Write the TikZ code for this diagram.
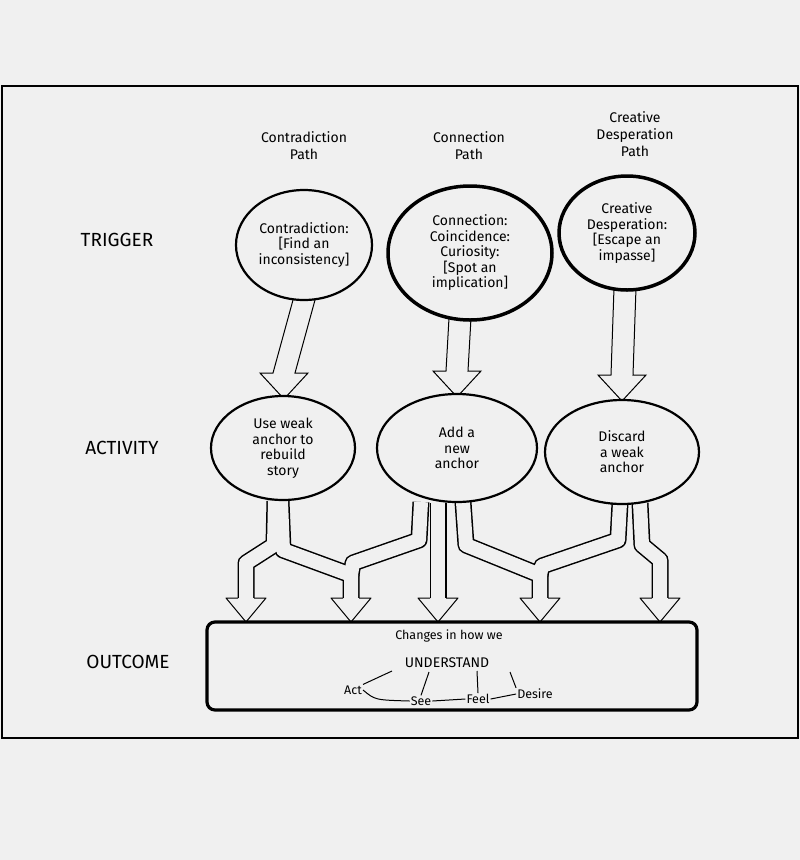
\documentclass[tikz,border=0pt]{standalone}
\usepackage{fontspec}
\setmainfont{Fira Sans}
\usetikzlibrary{shapes.geometric}
\begin{document}
\begin{tikzpicture}[x=1pt,y=-1pt,
  ell/.style={ellipse,draw,line width=2.2pt,fill=white!94!black,inner sep=0pt,align=center,font=\fontsize{14}{15.5}\selectfont},
  thk/.style={line width=3.2pt},
  lbl/.style={font=\fontsize{19}{21}\selectfont},
  hdr/.style={align=center,font=\fontsize{14}{17}\selectfont},
  sm/.style={font=\fontsize{12.5}{14}\selectfont,inner sep=1pt},
  outer/.style={line width=17pt,black,line join=round},
  inner/.style={line width=14pt,white!94!black,line join=round},
  head/.style={draw,line width=1pt,fill=white!94!black,line join=round}]
\fill[white!94!black] (0,0) rectangle (800,860);
\useasboundingbox (0,0) rectangle (800,860);
\draw[line width=1.2pt,fill=white!94!black] (2,86) rectangle (798,738);
% labels
\node[lbl] (lt) at (117,240) {TRIGGER};
\node[lbl] (la) at (122,448) {ACTIVITY};
\node[lbl] (lo) at (128,662) {OUTCOME};
\node[hdr] (h1) at (304,146) {Contradiction\\Path};
\node[hdr] (h2) at (469,146) {Connection\\Path};
\node[hdr] (h3) at (635,134) {Creative\\Desperation\\Path};
% top arrows
\foreach \xa/\ya/\xb/\yb in {304/300/284/399, 460/318/457/397, 625/288/622/401}{
  \draw[line width=1pt,fill=white!94!black] (\xa-11,\ya) -- (\xb-11,\yb-26) -- (\xb-24,\yb-26) -- (\xb,\yb) -- (\xb+24,\yb-26) -- (\xb+11,\yb-26) -- (\xa+11,\ya);
}
% ellipses
\node[ell,minimum width=136,minimum height=110] (t1) at (304,245) {Contradiction:\\{[}Find an\\inconsistency{]}};
\node[ell,line width=3.5pt,minimum width=164,minimum height=134] (t2) at (470,253) {Connection:\\Coincidence:\\Curiosity:\\{[}Spot an\\implication{]}};
\node[ell,line width=3.5pt,minimum width=136,minimum height=114] (t3) at (627,233) {Creative\\Desperation:\\{[}Escape an\\impasse{]}};
% bottom forked arrows
\foreach \s in {outer,inner}{
  \draw[\s] (275,501) -- (274,545) -- (246,563) -- (246,602);
  \draw[\s] (281,501) -- (283,550) -- (351,575) -- (351,602);
  \draw[\s] (421,502) -- (419,540) -- (353,563) -- (351,575);
  \draw[\s] (438,503) -- (438,602);
  \draw[\s] (463,502) -- (466,545) -- (540,575) -- (540,602);
  \draw[\s] (620,503) -- (618,540) -- (542,566) -- (540,575);
  \draw[\s] (640,503) -- (642,545) -- (660,560) -- (660,602);
}
\foreach \x in {246,351,438,540,660}
  \draw[head] (\x-8,598) -- (\x-20,598) -- (\x,622) -- (\x+20,598) -- (\x+8,598);
\node[ell,minimum width=144,minimum height=104] (a1) at (283,448) {Use weak\\anchor to\\rebuild\\story};
\node[ell,minimum width=160,minimum height=108] (a2) at (457,448) {Add a\\new\\anchor};
\node[ell,minimum width=154,minimum height=104] (a3) at (622,452) {Discard\\a weak\\anchor};
% outcome
\draw[thk,rounded corners=8,fill=white!94!black] (207,622) rectangle (697,710);
\node[sm] (ch) at (449,636) {Changes in how we};
\node[font=\fontsize{14}{15}\selectfont,inner sep=1pt] (u) at (447,663) {UNDERSTAND};
\node[sm] (act) at (353,690) {Act};
\node[sm] (see) at (421,701) {See};
\node[sm] (feel) at (478,699) {Feel};
\node[sm] (des) at (535,694) {Desire};
\draw[line width=1pt] (392,671) -- (act.north east);
\draw[line width=1pt] (429,672) -- (see.north);
\draw[line width=1pt] (477,671) -- (feel.north);
\draw[line width=1pt] (510,672) -- (des.north west);
\draw[line width=1pt] (act.east) .. controls (375,700) .. (see.west);
\draw[line width=1pt] (see.east) -- (feel.west);
\draw[line width=1pt] (feel.east) -- (des.west);
\end{tikzpicture}
\end{document}
